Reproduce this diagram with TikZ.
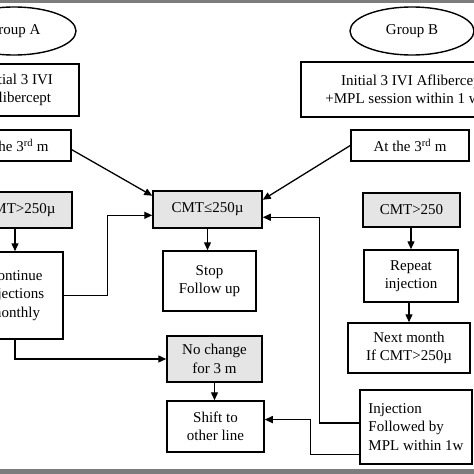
\documentclass[tikz,border=0pt]{standalone}
\usepackage{fontspec}
\setmainfont{Liberation Serif}
\usetikzlibrary{arrows.meta,shapes.geometric}
\definecolor{boxgrey}{RGB}{229,229,229}
\definecolor{barcol}{RGB}{125,125,125}

\begin{document}
\begin{tikzpicture}[x=1pt,y=-1pt,
    box/.style={draw, line width=1.5pt, inner sep=1pt, align=center, font=\fontsize{15}{18.5}\selectfont},
    greybox/.style={box, fill=boxgrey},
    grp/.style={draw, ellipse, line width=1.4pt, inner sep=0pt, font=\fontsize{15}{18}\selectfont},
    arr/.style={-{Triangle[length=8pt,width=7pt]}, line width=1.3pt}]
    \useasboundingbox (0,0) rectangle (474,474);
    \clip (0,0) rectangle (474,474);
    \fill[white] (0,0) rectangle (474,474);
    \node[grp, minimum width=124pt, minimum height=48pt] (gA) at (14, 31) {Group A};
    \node[grp, minimum width=124pt, minimum height=48pt] (gB) at (412, 31) {Group B};
    \node[box, minimum width=124pt, minimum height=52pt] (initA) at (17, 90) {Initial 3 IVI\\Aflibercept};
    \node[box, minimum width=224pt, minimum height=55pt] (initB) at (413, 89.5) {Initial 3 IVI Aflibercept\\+MPL session within 1 week};
    \node[box, minimum width=118pt, minimum height=31pt] (thirdA) at (12, 145.5) {At the 3\textsuperscript{rd} m};
    \node[box, minimum width=118pt, minimum height=31pt] (thirdB) at (410, 145.5) {At the 3\textsuperscript{rd} m};
    \node[greybox, minimum width=109pt, minimum height=37pt] (cmtle) at (207.5, 209.5) {CMT≤250µ};
    \node[greybox, minimum width=105pt, minimum height=36pt] (cmtgtA) at (19.5, 210) {CMT>250µ};
    \node[greybox, minimum width=97pt, minimum height=34pt] (cmtgtB) at (411.5, 210) {CMT>250};
    \node[box, minimum width=96pt, minimum height=87pt] (contA) at (15, 295.5) {Continue\\injections\\monthly};
    \node[box, minimum width=93pt, minimum height=60pt] (stop) at (209.5, 281) {Stop\\Follow up};
    \node[box, minimum width=94pt, minimum height=52pt] (repeat) at (411, 276) {Repeat\\injection};
    \node[box, minimum width=122pt, minimum height=50pt] (nextm) at (409, 348) {Next month\\If CMT>250µ};
    \node[greybox, minimum width=95pt, minimum height=46pt] (nochg) at (214.5, 359) {No change\\for 3 m};
    \node[box, minimum width=97pt, minimum height=51pt] (shift) at (215.5, 426.5) {Shift to\\other line};
    \node[box, align=left, minimum width=112pt, minimum height=74pt] (injB) at (416, 427) {Injection\\Followed by\\MPL within 1w};
    \draw[arr] (thirdA.-4) -- (cmtle.166);
    \draw[arr] (thirdB.west) -- (cmtle.10);
    \draw[arr] (contA.east) -- ++(44,0) |- (cmtle.186);
    \draw[arr] (injB.176) -- ++(-40,0) |- (cmtle.-8);
    \draw[arr] (injB.206) -- ++(-49,0) |- (shift.8);
    \draw[arr] (cmtle.south) -- (cmtle.south |- stop.north);
    \draw[arr] (cmtgtA.south -| contA.north) -- (contA.north);
    \draw[arr] (contA.south) |- (nochg.west);
    \draw[arr] (nochg.south) -- (nochg.south |- shift.north);
    \draw[arr] (cmtgtB.south -| repeat.north) -- (repeat.north);
    \draw[arr] (repeat.south -| nextm.north) -- (nextm.north);
    \fill[barcol] (0,0) rectangle (474,2.5);
    \fill[barcol] (0,469) rectangle (474,474);
\end{tikzpicture}
\end{document}
